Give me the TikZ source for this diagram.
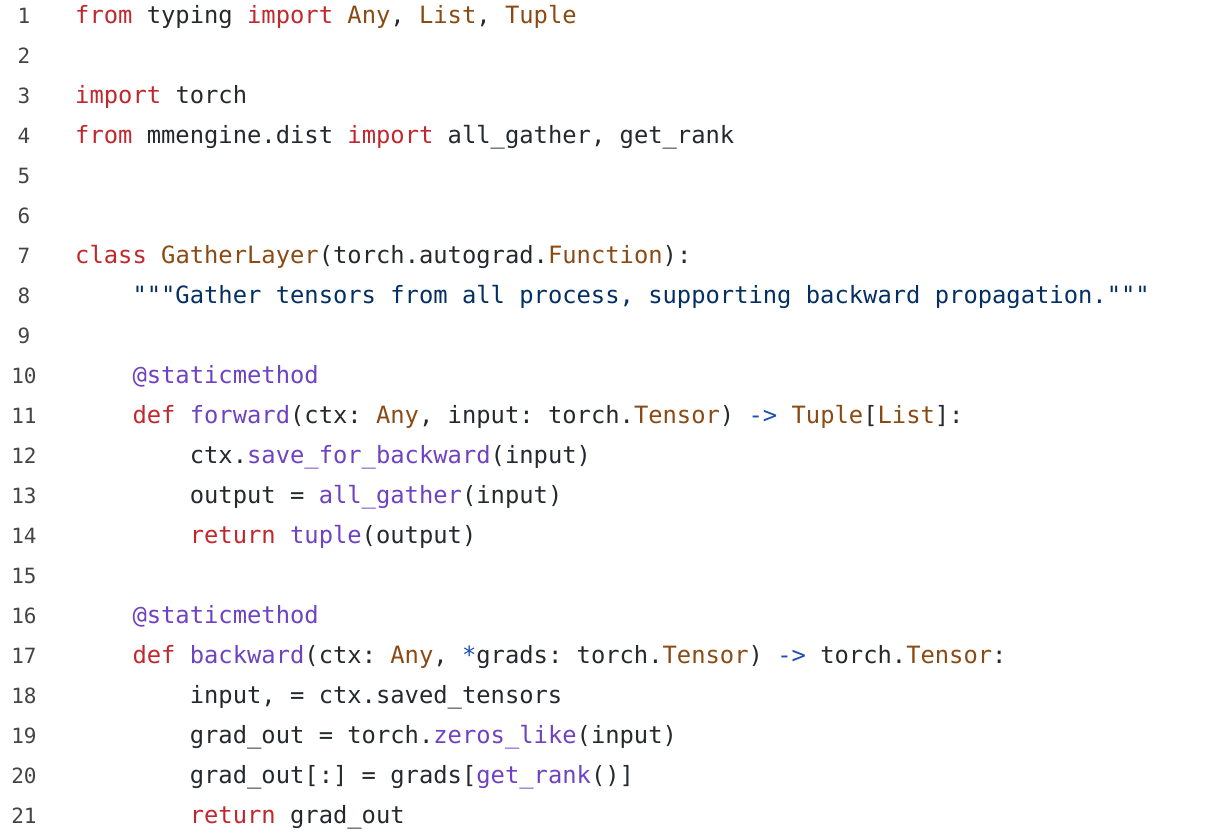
\documentclass[tikz,border=0pt]{standalone}
\usepackage{fontspec}
\setmonofont{DejaVu Sans Mono}
\definecolor{txt}{HTML}{24292E}
\definecolor{kwc}{HTML}{C0282D}
\definecolor{tyc}{HTML}{8A4A13}
\definecolor{fnc}{HTML}{6F42C1}
\definecolor{stc}{HTML}{032F62}
\definecolor{opc}{HTML}{1B4FB8}
\definecolor{lnc}{HTML}{444444}
\newcommand{\kw}[1]{\textcolor{kwc}{#1}}
\newcommand{\ty}[1]{\textcolor{tyc}{#1}}
\newcommand{\fn}[1]{\textcolor{fnc}{#1}}
\newcommand{\st}[1]{\textcolor{stc}{#1}}
\newcommand{\op}[1]{\textcolor{opc}{#1}}
\begin{document}
\begin{tikzpicture}[x=1pt,y=1pt,
  code/.style={anchor=base west,inner sep=0pt,text=txt,font=\fontsize{23.8}{28}\ttfamily},
  lnum/.style={anchor=base,inner sep=0pt,text=lnc,font=\fontsize{21}{26}\ttfamily}]
\useasboundingbox (0,0) rectangle (1210,-836);
\foreach \n in {1,...,21}{\node[lnum] (ln\n) at (24,{-23-40*(\n-1)}) {\n};}
\def\L#1#2#3{\node[code] (c#1) at ({75+57.3*#2},{-23-40*(#1-1)}) {#3};}
\L{1}{0}{\kw{from} typing \kw{import} \ty{Any}, \ty{List}, \ty{Tuple}}
\L{3}{0}{\kw{import} torch}
\L{4}{0}{\kw{from} mmengine.dist \kw{import} all\_gather, get\_rank}
\L{7}{0}{\kw{class} \ty{GatherLayer}(torch.autograd.\ty{Function}):}
\L{8}{1}{\st{"""Gather tensors from all process, supporting backward propagation."""}}
\L{10}{1}{\fn{@staticmethod}}
\L{11}{1}{\kw{def} \fn{forward}(ctx: \ty{Any}, input: torch.\ty{Tensor}) \op{->} \ty{Tuple}[\ty{List}]:}
\L{12}{2}{ctx.\fn{save\_for\_backward}(input)}
\L{13}{2}{output = \fn{all\_gather}(input)}
\L{14}{2}{\kw{return} \fn{tuple}(output)}
\L{16}{1}{\fn{@staticmethod}}
\L{17}{1}{\kw{def} \fn{backward}(ctx: \ty{Any}, \op{*}grads: torch.\ty{Tensor}) \op{->} torch.\ty{Tensor}:}
\L{18}{2}{input, = ctx.saved\_tensors}
\L{19}{2}{grad\_out = torch.\fn{zeros\_like}(input)}
\L{20}{2}{grad\_out[:] = grads[\fn{get\_rank}()]}
\L{21}{2}{\kw{return} grad\_out}
\end{tikzpicture}
\end{document}
